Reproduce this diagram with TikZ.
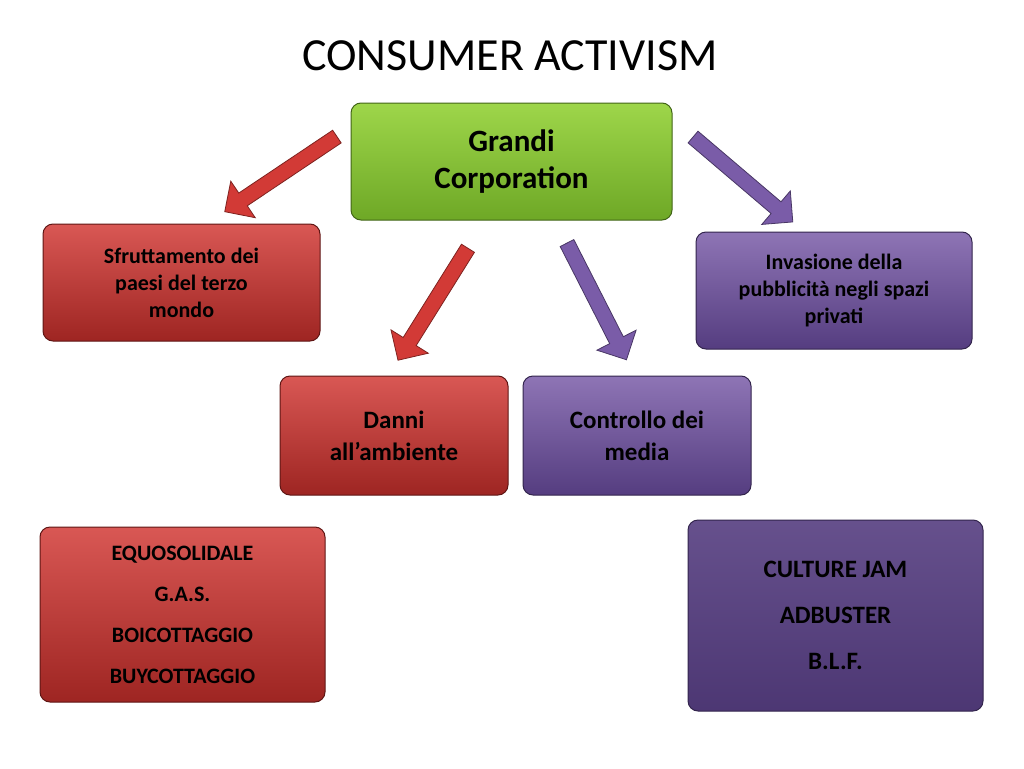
\documentclass[tikz,border=0pt]{standalone}
\usepackage{fontspec}
\setmainfont{Carlito}
\usetikzlibrary{shapes.arrows}
\definecolor{rd}{HTML}{D23A36}\definecolor{rdd}{HTML}{9E2522}
\definecolor{pu}{HTML}{7A5CA8}\definecolor{pud}{HTML}{553D80}
\definecolor{gr}{HTML}{9ED64A}\definecolor{grd}{HTML}{6EA826}
\tikzset{
 bx/.style={rounded corners=10pt,draw=#1!60!black,line width=1pt,align=center,font=\bfseries\fontsize{22}{27}\selectfont,text=black},
 redbox/.style={bx=rdd,top color=rd!85!white,bottom color=rdd},
 purbox/.style={bx=pud,top color=pu!85!white,bottom color=pud},
 arr/.style={single arrow,draw=#1!60!black,fill=#1,minimum width=44pt,single arrow head extend=12pt,inner sep=6pt,line width=0.8pt}
}
\begin{document}
\begin{tikzpicture}[x=1pt,y=-1pt]
\useasboundingbox (0,0) rectangle (1024,768);
\node[font=\fontsize{46}{50}\selectfont] (title) at (510,56) {CONSUMER ACTIVISM};
\node[bx=grd,top color=gr,bottom color=grd,minimum width=321pt,minimum height=117pt,font=\bfseries\fontsize{31}{37}\selectfont] (gc) at (511.5,161.5) {Grandi\\Corporation};
\node[redbox,minimum width=277pt,minimum height=117pt] (sf) at (181.5,282.5) {Sfruttamento dei\\paesi del terzo\\mondo};
\node[purbox,minimum width=276pt,minimum height=117pt] (inv) at (834,290.5) {Invasione della\\pubblicità negli spazi\\privati};
\node[redbox,minimum width=228pt,minimum height=119pt,font=\bfseries\fontsize{25}{32}\selectfont] (da) at (394,435.5) {Danni\\all’ambiente};
\node[purbox,minimum width=228pt,minimum height=119pt,font=\bfseries\fontsize{25}{32}\selectfont] (co) at (637,435.5) {Controllo dei\\media};
\node[redbox,minimum width=285pt,minimum height=175pt,font=\bfseries\fontsize{22}{41}\selectfont] (eq) at (182.5,614.5) {EQUOSOLIDALE\\G.A.S.\\BOICOTTAGGIO\\BUYCOTTAGGIO};
\node[bx=pud,top color=pud!90!white,bottom color=pud!90!black,minimum width=295pt,minimum height=191pt,font=\bfseries\fontsize{25}{46}\selectfont] (cj) at (835.5,615.5) {CULTURE JAM\\ADBUSTER\\B.L.F.};
\node[arr=rd,minimum height=135pt,rotate=213.8] (a1) at (284,172) {};
\node[arr=rd,minimum height=132pt,rotate=238] (a2) at (435,301) {};
\node[arr=pu,minimum height=131pt,rotate=297] (a3) at (595,298) {};
\node[arr=pu,minimum height=131pt,rotate=319.6] (a4) at (740,177) {};
\end{tikzpicture}
\end{document}
